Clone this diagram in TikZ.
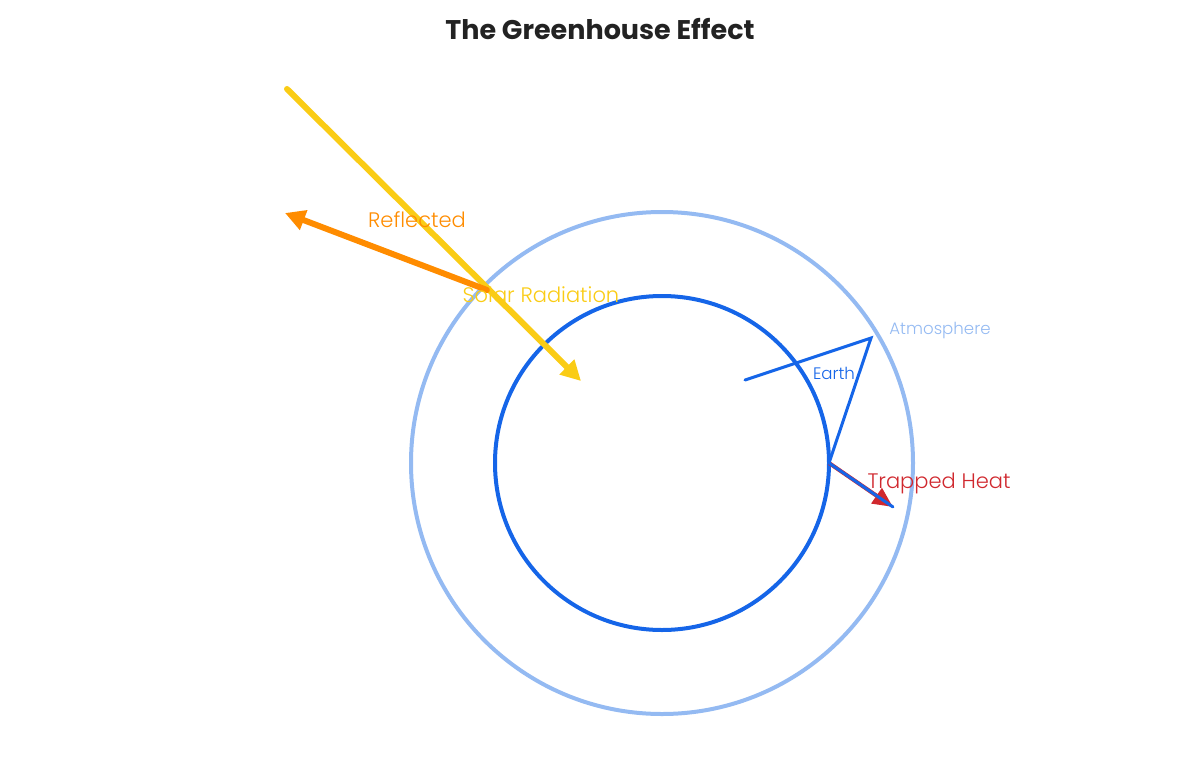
\documentclass[tikz,border=0pt]{standalone}
\usepackage{fontspec}
\setmainfont{Poppins}
\newfontfamily\lightfont{Poppins Light}
\usetikzlibrary{arrows.meta}
\definecolor{sunY}{HTML}{FACC15}
\definecolor{reflO}{HTML}{FF8C00}
\definecolor{earthB}{HTML}{1565E8}
\definecolor{atmB}{HTML}{94BAF2}
\definecolor{heatR}{HTML}{D0282E}
\definecolor{titleC}{HTML}{222222}
\tikzset{
  ray/.style={line width=6pt, line cap=round, -{Triangle[length=20pt,width=20pt]}},
  lbl/.style={font=\lightfont\fontsize{21}{24}\selectfont, inner sep=0pt},
  slbl/.style={font=\lightfont\fontsize{16.6}{20}\selectfont, inner sep=0pt},
}
\begin{document}
\begin{tikzpicture}[x=1pt,y=-1pt]
\useasboundingbox (0,0) rectangle (1200,763);
\node[font=\fontsize{27}{30}\selectfont\bfseries, text=titleC] (title) at (600,29) {The Greenhouse Effect};
\coordinate (c) at (662,463);
\draw[atmB, line width=4pt] (c) circle[radius=251];
\draw[earthB, line width=4pt] (c) circle[radius=167];
% solar radiation
\coordinate (sunStart) at (287,89);
\coordinate (sunEnd) at (581,381);
\coordinate (hit) at (487,290);
\coordinate (reflEnd) at (285,213);
\draw[ray, sunY] (sunStart) -- (sunEnd);
\draw[ray, reflO] (hit) -- (reflEnd);
% trapped heat
\coordinate (a1) at (745,380);
\coordinate (a2) at (871,338);
\coordinate (a3) at (829,463);
\coordinate (a4) at (893,507);
\draw[heatR, line width=4pt, -{Triangle[length=20pt,width=18pt]}] (a3) -- (a4);
\draw[earthB, line width=3pt, line cap=round, line join=miter] (a1) -- (a2) -- (a3) -- (a4);
% labels
\node[lbl, text=reflO] (lrefl) at (417,220) {Reflected};
\node[lbl, text=sunY] (lsun) at (541,295) {Solar Radiation};
\node[slbl, text=atmB] (latm) at (940,330) {Atmosphere};
\node[slbl, text=earthB] (learth) at (834,373) {Earth};
\node[lbl, text=heatR] (lheat) at (939,483) {Trapped Heat};
\end{tikzpicture}
\end{document}
